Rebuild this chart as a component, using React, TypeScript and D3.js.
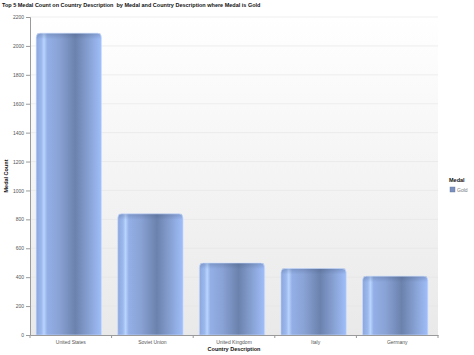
import { useEffect, useRef } from "react"
import * as d3 from "d3"

const countries = ["United States", "Soviet Union", "United Kingdom", "Italy", "Germany"]
const goldCounts = [2088, 838, 498, 460, 407]
const yTicks = [0, 200, 400, 600, 800, 1000, 1200, 1400, 1600, 1800, 2000, 2200]
const legendTitle = "Medal"
const legendItems = ["Gold"]

export default function App() {
  const svgRef = useRef<SVGSVGElement>(null)

  useEffect(() => {
    if (!svgRef.current) return
    const svg = d3.select(svgRef.current)
    svg.selectAll("*").remove()

    const width = 474
    const height = 355
    const plot = { left: 30, right: 438, top: 17, bottom: 335 }
    const font = "Arial, 'Liberation Sans', sans-serif"

    const defs = svg.append("defs")
    // fondo del área de trazado
    const bg = defs.append("linearGradient").attr("id", "bg").attr("x1", 0).attr("y1", 0).attr("x2", 0).attr("y2", 1)
    bg.append("stop").attr("offset", "0%").attr("stop-color", "#ffffff")
    bg.append("stop").attr("offset", "100%").attr("stop-color", "#e9e9e9")

    // cilindro horizontal
    const bar = defs.append("linearGradient").attr("id", "bar").attr("x1", 0).attr("y1", 0).attr("x2", 1).attr("y2", 0)
    const barStops: [number, string][] = [
      [0, "#8ba6dc"],
      [0.08, "#9cb9ee"],
      [0.12, "#b9d4fd"],
      [0.17, "#93afe6"],
      [0.35, "#8aa3d6"],
      [0.6, "#6b82ad"],
      [0.8, "#86a0d2"],
      [1, "#a0befa"],
    ]
    barStops.forEach(([o, c]) => bar.append("stop").attr("offset", o).attr("stop-color", c))

    const topShade = defs.append("linearGradient").attr("id", "topShade").attr("x1", 0).attr("y1", 0).attr("x2", 0).attr("y2", 1)
    topShade.append("stop").attr("offset", "0%").attr("stop-color", "#3a4d70").attr("stop-opacity", 0.25)
    topShade.append("stop").attr("offset", "100%").attr("stop-color", "#3a4d70").attr("stop-opacity", 0)

    svg.append("rect").attr("width", width).attr("height", height).attr("fill", "#ffffff")

    const x = d3.scaleBand<string>().domain(countries).range([plot.left, plot.right]).paddingInner(0.2).paddingOuter(0.1)
    const y = d3.scaleLinear().domain([0, 2200]).range([plot.bottom, plot.top])

    svg.append("rect")
      .attr("x", plot.left)
      .attr("y", plot.top)
      .attr("width", plot.right - plot.left)
      .attr("height", plot.bottom - plot.top)
      .attr("fill", "url(#bg)")

    // líneas de cuadrícula
    svg.append("g")
      .selectAll("line")
      .data(yTicks.slice(1))
      .join("line")
      .attr("x1", plot.left)
      .attr("x2", plot.right)
      .attr("y1", (d) => y(d))
      .attr("y2", (d) => y(d))
      .attr("stroke", "#e4e4e4")
      .attr("stroke-width", 0.6)

    // barras
    const r = 4
    const bars = svg.append("g")
    countries.forEach((c, i) => {
      const x0 = (x(c) || 0) - 2
      const w = x.bandwidth()
      const y0 = y(goldCounts[i])
      const y1 = y(0)
      const p = `M${x0},${y1} V${y0 + r} Q${x0},${y0} ${x0 + r},${y0} H${x0 + w - r} Q${x0 + w},${y0} ${x0 + w},${y0 + r} V${y1} Z`
      bars.append("path").attr("d", p).attr("fill", "url(#bar)")
      bars.append("rect")
        .attr("x", x0 + 1)
        .attr("y", y0)
        .attr("width", w - 2)
        .attr("height", 6)
        .attr("fill", "url(#topShade)")
      bars.append("path").attr("d", p).attr("fill", "none").attr("stroke", "#c9dcff").attr("stroke-width", 0.6)
    })

    // eje Y
    const yAxis = svg.append("g").attr("transform", `translate(${plot.left},0)`)
      .call(d3.axisLeft(y).tickValues(yTicks).tickSize(4).tickPadding(2).tickFormat(d3.format("d")))
    yAxis.select(".domain").attr("stroke", "#9a9a9a")
    yAxis.selectAll(".tick line").attr("stroke", "#9a9a9a")
    yAxis.selectAll("text").attr("fill", "#555").style("font-size", "5px").style("font-family", font)

    // eje X
    const xAxis = svg.append("g").attr("transform", `translate(0,${plot.bottom})`)
      .call(d3.axisBottom(x).tickSize(0).tickPadding(5))
    xAxis.select(".domain").attr("stroke", "#9a9a9a")
    xAxis.selectAll("text").attr("fill", "#555").style("font-size", "5px").style("font-family", font)
    const step = x.step()
    const bounds = d3.range(countries.length + 1).map((i) => plot.left + i * step)
    xAxis.selectAll(".sep")
      .data(bounds)
      .join("line")
      .attr("x1", (d) => d)
      .attr("x2", (d) => d)
      .attr("y1", 0)
      .attr("y2", 3)
      .attr("stroke", "#9a9a9a")

    // títulos
    svg.append("text")
      .attr("x", 2)
      .attr("y", 7)
      .attr("font-family", font)
      .attr("font-size", 5.5)
      .attr("font-weight", "bold")
      .attr("fill", "#111")
      .style("white-space", "pre")
      .text("Top 5 Medal Count on Country Description  by Medal and Country Description where Medal is Gold")

    svg.append("text")
      .attr("transform", `translate(8,${(plot.top + plot.bottom) / 2}) rotate(-90)`)
      .attr("text-anchor", "middle")
      .attr("font-family", font)
      .attr("font-size", 5.5)
      .attr("font-weight", "bold")
      .attr("fill", "#111")
      .text("Medal Count")

    svg.append("text")
      .attr("x", (plot.left + plot.right) / 2)
      .attr("y", 351)
      .attr("text-anchor", "middle")
      .attr("font-family", font)
      .attr("font-size", 5.5)
      .attr("font-weight", "bold")
      .attr("fill", "#111")
      .text("Country Description")

    // leyenda
    const legend = svg.append("g").attr("transform", "translate(449,182)")
    legend.append("text")
      .attr("font-family", font)
      .attr("font-size", 5.5)
      .attr("font-weight", "bold")
      .attr("fill", "#111")
      .text(legendTitle)
    legendItems.forEach((name, i) => {
      const row = legend.append("g").attr("transform", `translate(0,${5 + i * 8})`)
      row.append("rect").attr("x", 1).attr("width", 5).attr("height", 5).attr("fill", "#7a91bf").attr("stroke", "#5d7099").attr("stroke-width", 0.4)
      row.append("text").attr("x", 8).attr("y", 4.5).attr("font-family", font).attr("font-size", 5).attr("fill", "#777").text(name)
    })
  }, [])

  return (
    <svg
      ref={svgRef}
      width={474}
      height={355}
      style={{ position: "absolute", left: 0, top: 0, display: "block" }}
    />
  )
}
